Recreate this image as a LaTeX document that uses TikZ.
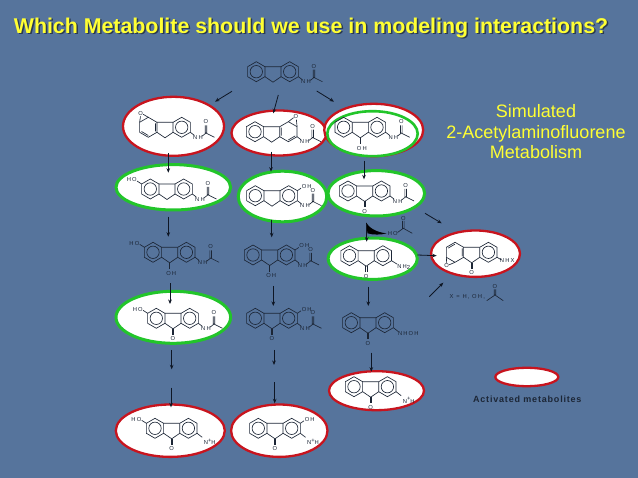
\documentclass[tikz,border=0pt]{standalone}
\usepackage{fontspec}
\setmainfont{Liberation Sans}
\usetikzlibrary{arrows.meta,shapes.geometric}
\newfontfamily\chemf[LetterSpace=20]{Liberation Sans}
\newfontfamily\actf[LetterSpace=9]{Liberation Sans}
\definecolor{bgblue}{HTML}{56749C}
\definecolor{ink}{HTML}{1C2636}
\definecolor{arrowink}{HTML}{0E1624}
\definecolor{redring}{HTML}{C8141E}
\definecolor{greenring}{HTML}{22C52A}
\definecolor{ttl}{HTML}{FFFF33}
\definecolor{ttlshadow}{HTML}{2A3A50}
\tikzset{
  bond/.style={draw=ink,line width=0.65pt},
  lab/.style={text=ink,font=\chemf\fontsize{5.8}{6}\selectfont,inner sep=0pt},
  arr/.style={draw=arrowink,line width=0.8pt,-{Stealth[length=4.5pt,width=3.6pt]}},
}
% ellipse: name, cx, cy, rx, ry, colour, width
\newcommand\metoval[7]{\node[shape=ellipse,draw=#6,fill=white,line width=#7pt,inner sep=0pt,minimum width=#4*2pt,minimum height=#5*2pt] (#1) at (#2,#3) {};}
% aromatic ring centred at x=#1
\newcommand\hexa[1]{\begin{scope}[xshift=#1pt]
  \draw[bond] (0,-10)--(8.66,-5)--(8.66,5)--(0,10)--(-8.66,5)--(-8.66,-5)--cycle;
\end{scope}}
\newcommand\benz[1]{\hexa{#1}\begin{scope}[xshift=#1pt]\draw[bond] (0,0) circle (6.2);\end{scope}}
\newcommand\fivering{\draw[bond] (-8.04,-5)--(8.04,-5) (-8.04,5)--(0,10.5)--(8.04,5);}
\newcommand\flu{\benz{-16.7}\benz{16.7}\fivering}
\newcommand\ketone{\draw[bond] (-0.8,10.5)--(-0.8,16.5) (0.8,10.5)--(0.8,16.5);\node[lab] (keto) at (0,20.7) {O};}
\newcommand\bridgeoh{\draw[bond] (0,10.5)--(0,17);\node[lab] (boh) at (1.5,21) {OH};}
\newcommand\hol{\draw[bond] (-25.36,-5)--(-30,-8);\node[lab] (hol) at (-35.3,-9) {HO};}
\newcommand\ohr{\draw[bond] (25.36,-5)--(29,-7.5);\node[lab] (ohr) at (34.7,-9) {OH};}
\newcommand\acet{\draw[bond] (25.36,5)--(29.3,8) (37.3,8.7)--(41,5.8)--(49.4,10) (40.2,5.8)--(40.2,-2) (41.8,5.8)--(41.8,-2);
  \node[lab] (nh) at (33,10.3) {NH};\node[lab] (carbo) at (41,-5.5) {O};}
\newcommand\nplus{\draw[bond] (25.36,5)--(30.5,9);\node[lab] (np) at (38,13.5) {N\raisebox{2.5pt}{+}H};}
\begin{document}
\begin{tikzpicture}[x=1pt,y=-1pt]
\useasboundingbox (0,0) rectangle (638,478);
\fill[bgblue] (0,0) rectangle (638,478);
% title
\node[text=ttlshadow,font=\bfseries\fontsize{21.35}{24}\selectfont,inner sep=0pt,anchor=center] (titleshadow) at (312.5,29.5) {Which Metabolite should we use in modeling interactions?};
\node[text=ttl,font=\bfseries\fontsize{21.35}{24}\selectfont,inner sep=0pt,anchor=center] (title) at (311,28) {Which Metabolite should we use in modeling interactions?};
\node[text=ttl,font=\fontsize{18}{20.5}\selectfont,align=center,inner sep=0pt] (sim) at (536,132) {Simulated\\2-Acetylaminofluorene\\Metabolism};
% ellipses
\metoval{e1}{173.5}{126.3}{50.5}{29.5}{redring}{2.3}
\metoval{e2}{279}{133}{47.5}{22.5}{redring}{2.3}
\metoval{e3}{373.7}{130}{49.5}{26.2}{redring}{2.3}
\metoval{e3g}{372.5}{133.7}{45.2}{22.5}{greenring}{2.6}
\metoval{g1}{173.3}{187.3}{57.3}{22.7}{greenring}{3}
\metoval{g2}{282.5}{196.5}{44.3}{25.3}{greenring}{3}
\metoval{g3}{376.3}{193.3}{48.3}{22.7}{greenring}{3}
\metoval{g4}{372.7}{258.7}{44.6}{20.7}{greenring}{3}
\metoval{r5}{475.5}{253.7}{44.5}{23.2}{redring}{2.3}
\metoval{g5}{173.3}{317.3}{57.3}{26}{greenring}{3}
\metoval{r6}{170.3}{430.7}{54.5}{26.2}{redring}{2.3}
\metoval{r7}{279.3}{430.7}{48.2}{26.2}{redring}{2.3}
\metoval{r8}{376.5}{390.7}{47.5}{19.5}{redring}{2.3}
\metoval{r9}{526.8}{377}{31.5}{9.2}{redring}{2.3}
\node[text=ink,font=\actf\bfseries\fontsize{9}{10}\selectfont,inner sep=0pt] (act) at (527.3,399) {Activated metabolites};
% molecules
\begin{scope}[shift={(273,71.7)},name prefix=m0-]\flu\acet\end{scope}
\begin{scope}[shift={(165,127.3)},name prefix=m1-]
  \benz{16.7}\hexa{-16.7}\fivering\acet
  \draw[bond] (-9.5,-4)--(-9.5,4) (-23.5,4.2)--(-16.7,8.2);
  \node[lab] (epo) at (-24.3,-14) {O};
  \draw[bond] (-21.8,-13)--(-16.7,-10) (-25.36,-5)--(-24.5,-11);
\end{scope}
\begin{scope}[shift={(271.7,131.7)},name prefix=m2-]
  \benz{-16.7}\hexa{16.7}\fivering\acet
  \draw[bond] (9.5,-4)--(9.5,4) (16.7,8.2)--(23.5,4.2);
  \node[lab] (epo) at (24.3,-15) {O};
  \draw[bond] (21.8,-14)--(16.7,-10) (25.36,-5)--(24.7,-12);
\end{scope}
\begin{scope}[shift={(360.3,127.3)},name prefix=m3-]\flu\bridgeoh\acet\end{scope}
\begin{scope}[shift={(167,189)},name prefix=m4-]\flu\hol\acet\end{scope}
\begin{scope}[shift={(272,195.7)},name prefix=m5-]\flu\ohr\acet\end{scope}
\begin{scope}[shift={(364.7,191)},name prefix=m6-]\flu\ketone\acet\end{scope}
\begin{scope}[shift={(366.2,255.7)},name prefix=m7-]\flu\ketone
  \draw[bond] (25.36,5)--(31,8.5);
  \node[lab] (nh2) at (37.5,11.5) {NH\raisebox{-1.5pt}{2}};
\end{scope}
\begin{scope}[shift={(471.7,252.3)},name prefix=m8-]
  \benz{16.7}\hexa{-16.7}\fivering\ketone
  \draw[bond] (-9.5,-4)--(-9.5,4) (-23.5,-4.2)--(-16.7,-8.2);
  \node[lab] (epo) at (-25,13.7) {O};
  \draw[bond] (-22.5,12.5)--(-16.7,10) (-25.36,5)--(-25,11);
  \draw[bond] (25.36,5)--(29.5,7.5);
  \node[lab] (nhx) at (35.5,8.7) {NHX};
\end{scope}
\begin{scope}[shift={(169.7,252.3)},name prefix=m9-]\flu\hol\bridgeoh\acet\end{scope}
\begin{scope}[shift={(269.7,255)},name prefix=m10-]\flu\ohr\bridgeoh\acet\end{scope}
\begin{scope}[shift={(173,318.3)},name prefix=m11-]\flu\hol\ketone\acet\end{scope}
\begin{scope}[shift={(272,318.3)},name prefix=m12-]\flu\ohr\ketone\acet\end{scope}
\begin{scope}[shift={(368,322.7)},name prefix=m13-]\flu\ketone
  \draw[bond] (25.36,5)--(30.5,9);
  \node[lab] (nhoh) at (40.3,10.6) {NHOH};
\end{scope}
\begin{scope}[shift={(370.7,386.7)},name prefix=m14-]\flu\ketone\nplus\end{scope}
\begin{scope}[shift={(171.7,428.3)},name prefix=m15-]\flu\hol\ketone\nplus\end{scope}
\begin{scope}[shift={(275,428.3)},name prefix=m16-]\flu\ohr\ketone\nplus\end{scope}
% acetic acid
\node[lab] (ho) at (392.7,234) {HO};
\node[lab] (aco) at (403.3,218.3) {O};
\coordinate (acc) at (403.3,228.3);
\draw[bond] (397.5,232.5)--(acc)--(412.3,233.3) (402.5,228.3)--(402.5,221) (404.1,228.3)--(404.1,221);
% X label
\node[lab] (xeq) at (467.3,296.7) {X = H, OH,};
\node[lab] (xo) at (495,286.7) {O};
\coordinate (xc) at (495,295);
\draw[bond] (486.7,300.7)--(xc)--(503.3,300.7) (494.2,295)--(494.2,289.5) (495.8,295)--(495.8,289.5);
% crescent
\fill[black] (366,222.5) .. controls (369,228) and (377,232.5) .. (386.5,233.3) .. controls (381,235) and (373,235) .. (367.5,233.3) -- cycle;
% arrows
\foreach \n/\ax/\ay/\bx/\by in {
 a/232/91.3/215/101.7, b/278.3/95/273.3/113.3, c/316.7/91/334/101.7,
 d/168.3/153.3/168.3/172.7, e/271/151.7/271/171.7, f/364/160.7/364/179.3,
 g/168.3/216.7/168.3/236.7, h/271.7/220/271.7/237.3, i/366.7/225/366.7/241.7,
 j/425/213.3/441.7/223.3, k/417.3/255/436.7/255.7, l/429.3/296.7/443.3/282.7,
 m/368.3/286.7/368.3/306, n/371.3/352.7/371.3/371.7, o/170/283.3/170/304,
 p/273.3/286/273.3/306, q/171.7/350/171.7/369.3, r/171/387.7/171/407.3,
 s/274/350/274/365, t/274.7/382.3/274.7/403.3}{
  \coordinate (\n s) at (\ax,\ay);
  \coordinate (\n t) at (\bx,\by);
  \draw[arr] (\n s)--(\n t);
}
\end{tikzpicture}
\end{document}
